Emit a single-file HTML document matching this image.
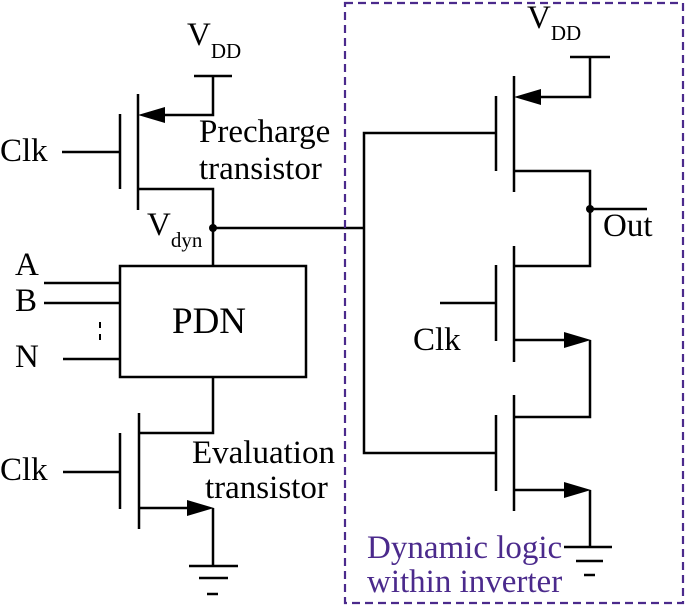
<!DOCTYPE html>
<html><head><style>
html,body{margin:0;padding:0;background:#fff;}
svg{display:block;}
text{font-family:"Liberation Serif",serif;fill:#000;}
</style></head><body>
<svg width="685" height="607" viewBox="0 0 685 607" xmlns="http://www.w3.org/2000/svg">
<g stroke="#000" stroke-width="2.5" fill="none">
<line x1="194" y1="76" x2="232" y2="76"/>
<polyline points="213,76 213,115 150,115"/>
<line x1="138" y1="94" x2="138" y2="210"/>
<line x1="120" y1="114" x2="120" y2="189"/>
<line x1="62" y1="152" x2="120" y2="152"/>
<polyline points="138,189 213,189 213,266"/>
<line x1="213" y1="228" x2="364" y2="228"/>
<rect x="120" y="266" width="186" height="111"/>
<line x1="44" y1="283" x2="120" y2="283"/>
<line x1="44" y1="303" x2="120" y2="303"/>
<line x1="63" y1="359" x2="120" y2="359"/>
<line x1="100" y1="322" x2="100" y2="328" stroke-width="2"/>
<line x1="100" y1="334" x2="100" y2="340" stroke-width="2"/>
<polyline points="213,377 213,433 139,433"/>
<line x1="139" y1="413" x2="139" y2="529"/>
<line x1="120" y1="433" x2="120" y2="509"/>
<line x1="63" y1="472" x2="120" y2="472"/>
<polyline points="139,508 200,508"/>
<line x1="213" y1="508" x2="213" y2="566"/>
<line x1="189" y1="566" x2="238" y2="566"/>
<line x1="199" y1="578" x2="228" y2="578"/>
<line x1="207" y1="594" x2="218" y2="594"/>
<polyline points="496,133 364,133 364,453 496,453"/>
<line x1="570" y1="57" x2="610" y2="57"/>
<polyline points="590,57 590,97 527,97"/>
<line x1="514" y1="76" x2="514" y2="192"/>
<line x1="496" y1="96" x2="496" y2="171"/>
<polyline points="514,171 590,171 590,266 514,266"/>
<line x1="590" y1="209" x2="647" y2="209"/>
<line x1="514" y1="246" x2="514" y2="362"/>
<line x1="496" y1="265" x2="496" y2="341"/>
<line x1="440" y1="303" x2="496" y2="303"/>
<polyline points="514,340 577,340"/>
<polyline points="590,340 590,417 514,417"/>
<line x1="514" y1="395" x2="514" y2="511"/>
<line x1="496" y1="415" x2="496" y2="491"/>
<polyline points="514,490 577,490"/>
<line x1="590" y1="490" x2="590" y2="547"/>
<line x1="564" y1="547" x2="612" y2="547"/>
<line x1="576" y1="561" x2="603" y2="561"/>
<line x1="584" y1="575" x2="595" y2="575"/>
</g>
<g fill="#000">
<polygon points="138,115 165,107 165,123"/>
<polygon points="214,508 187,500 187,516"/>
<polygon points="514,97 541,89 541,105"/>
<polygon points="591,340 564,332 564,348"/>
<polygon points="591,490 564,482 564,498"/>
<circle cx="213" cy="228" r="4"/>
<circle cx="590" cy="209" r="4"/>
</g>
<rect x="345" y="3" width="338" height="600" fill="none" stroke="#4b2a8c" stroke-width="2.2" stroke-dasharray="8,5"/>
<g font-size="33">
<text x="187" y="45">V<tspan font-size="21" dy="13">DD</tspan></text>
<text x="527" y="28">V<tspan font-size="21" dy="12">DD</tspan></text>
<text x="0" y="161">Clk</text>
<text x="199" y="142">Precharge</text>
<text x="199" y="179">transistor</text>
<text x="147" y="235">V<tspan font-size="21" dy="12">dyn</tspan></text>
<text x="15" y="275">A</text>
<text x="15" y="311">B</text>
<text x="15" y="367">N</text>
<text x="172" y="333" font-size="37">PDN</text>
<text x="0" y="480">Clk</text>
<text x="192" y="463">Evaluation</text>
<text x="205" y="498">transistor</text>
<text x="603" y="236">Out</text>
<text x="413" y="350">Clk</text>
<text x="367" y="558" style="fill:#4b2a8c">Dynamic logic</text>
<text x="367" y="592" style="fill:#4b2a8c">within inverter</text>
</g>
</svg>
</body></html>
